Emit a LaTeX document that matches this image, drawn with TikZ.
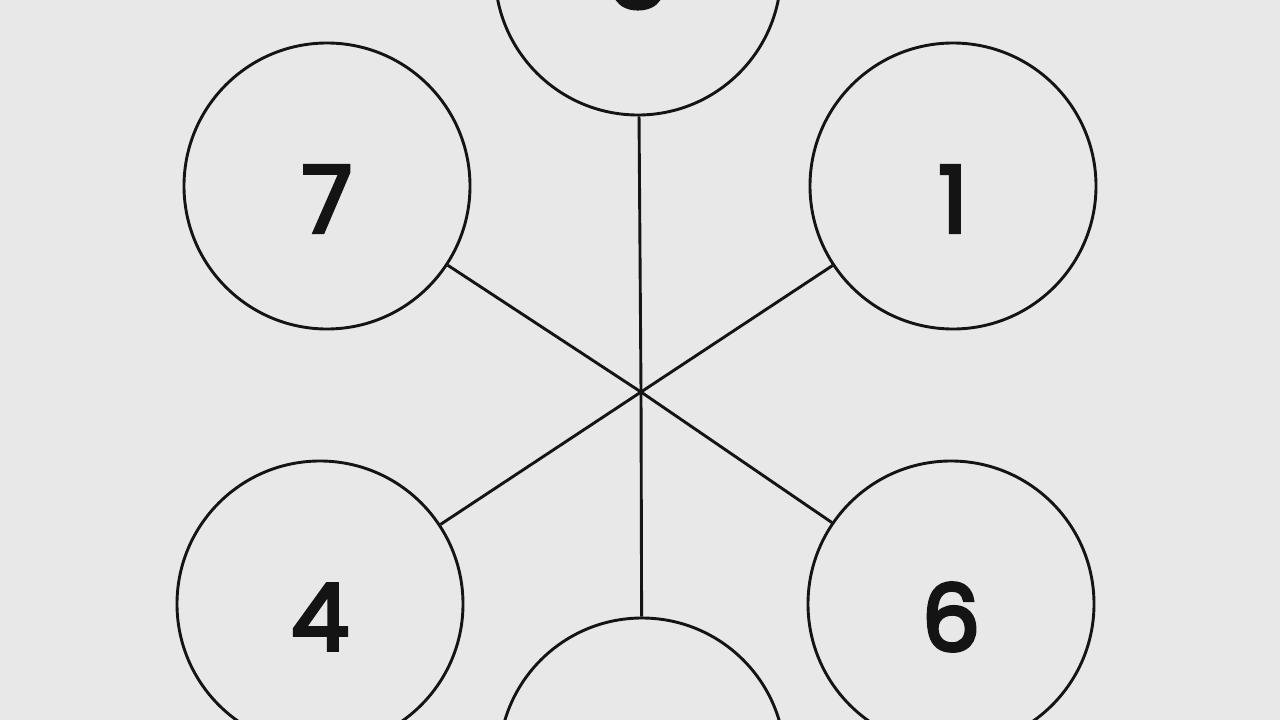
\documentclass[tikz,border=0pt]{standalone}
\usepackage{fontspec}
\setmainfont{Poppins}
\newfontfamily\digfont{Poppins}[FakeBold=4]
\definecolor{bg}{RGB}{232,232,232}
\definecolor{ink}{RGB}{20,20,20}
\begin{document}
\begin{tikzpicture}[x=1pt,y=-1pt,
  ball/.style={circle,draw=ink,line width=2.9pt,fill=bg,minimum size=286pt,inner sep=0pt},
  digit/.style={font=\digfont\fontsize{92}{92}\selectfont,text=ink,inner sep=0pt},
  spoke/.style={draw=ink,line width=2.9pt}]
\useasboundingbox (0,0) rectangle (1280,720);
\clip (0,0) rectangle (1280,720);
\fill[bg] (0,0) rectangle (1280,720);
\coordinate (hub) at (641,392);
\node[ball] (n8) at (638,-28) {};
\node[ball] (n7) at (327,186) {};
\node[ball] (n1) at (953,186) {};
\node[ball] (n4) at (320,604) {};
\node[ball] (n6) at (951,604) {};
\node[ball] (n5) at (642,761) {};
\node[digit] (t8) at ([yshift=-2pt]n8.center) {8};
\node[digit] (t7) at ([yshift=-13pt]n7.center) {7};
\node[digit] (t1) at ([yshift=-13pt]n1.center) {1};
\node[digit] (t4) at ([yshift=-13pt]n4.center) {4};
\node[digit] (t6) at ([yshift=-13pt]n6.center) {6};
\draw[spoke] (hub) -- (n8);
\draw[spoke] (hub) -- (n7);
\draw[spoke] (hub) -- (n1);
\draw[spoke] (hub) -- (n4);
\draw[spoke] (hub) -- (n6);
\draw[spoke] (hub) -- (n5);
\end{tikzpicture}
\end{document}
